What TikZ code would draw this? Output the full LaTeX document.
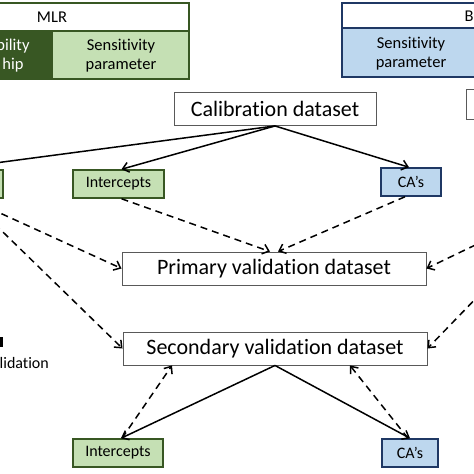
\documentclass[tikz,border=0pt]{standalone}
\usepackage{fontspec}
\setmainfont{Carlito}[Ligatures=NoCommon]
\usetikzlibrary{arrows.meta}
\definecolor{mlrdark}{HTML}{385723}
\definecolor{mlrlight}{HTML}{C5E0B4}
\definecolor{brtdark}{HTML}{1F3864}
\definecolor{brtlight}{HTML}{BDD7EE}
\definecolor{boxgrey}{HTML}{595959}

\begin{document}
\begin{tikzpicture}[x=1pt,y=-1pt]
    \useasboundingbox (0,0) rectangle (474,474);
    \clip (0,0) rectangle (474,474);

    % model tables
    \fill[mlrdark] (-85,31) rectangle (53,79);
    \fill[mlrlight] (53,31) rectangle (189,79);
    \draw[mlrdark,line width=1.8pt] (-85,3) rectangle (189,79) (-85,31) -- (189,31);
    \fill[brtlight] (342,28) rectangle (560,77);
    \draw[brtdark,line width=1.8pt] (342,3) rectangle (560,77) (342,28) -- (560,28);

    \begin{scope}[every node/.style={align=center,inner sep=0pt,
        font=\fontsize{16.5}{19}\selectfont}]
      \node (mlrhead) at (52,17) {MLR};
      \node[text=white] (mlrvar) at (13,55.5) {bility\\hip};
      \node (mlrsens) at (121,55.5) {Sensitivity\\parameter};
      \node (brthead) at (469,16) {B};
      \node (brtsens) at (411,54) {Sensitivity\\parameter};
    \end{scope}

    \begin{scope}[every node/.style={draw=boxgrey,fill=white,line width=0.9pt,
        minimum height=33pt,font=\fontsize{22}{26}\selectfont}]
      \node[minimum width=202pt] (calib) at (275,109) {Calibration dataset};
      \node[minimum width=304pt] (primary) at (274,268.5) {Primary validation dataset};
      \node[minimum width=304pt] (secondary) at (275,348.5) {Secondary validation dataset};
      \node[minimum width=108pt,minimum height=30pt] (brtcalib) at (520,104) {};
    \end{scope}

    \begin{scope}[every node/.style={line width=1.5pt,minimum height=28pt,
        inner sep=0pt,font=\fontsize{16}{19}\selectfont}]
      \node[draw=mlrdark,fill=mlrlight,minimum width=110pt] (slope) at (-52,184) {};
      \node[draw=mlrdark,fill=mlrlight,minimum width=91pt] (inttop) at (118.5,184) {Intercepts};
      \node[draw=brtdark,fill=brtlight,minimum width=60pt] (catop) at (411,182) {CA’s};
      \node[draw=mlrdark,fill=mlrlight,minimum width=90pt] (intbot) at (118,453) {Intercepts};
      \node[draw=brtdark,fill=brtlight,minimum width=56pt] (cabot) at (410,453) {CA’s};
    \end{scope}
    \coordinate (brtsrc) at (573,198);

    % legend
    \fill (-10,337) rectangle (3,347);
    \node[anchor=west,inner sep=0pt,font=\fontsize{16}{19}\selectfont] (legval) at (-0.5,363) {lidation};

    \begin{scope}[>={Straight Barb[length=6pt,width=10pt]},
        every edge/.style={draw=black,line width=1.5pt},
        valid/.style={dash pattern=on 7pt off 5pt}]
      \path [->] (calib.south) edge (slope.north);
      \path [->] (calib.south) edge ([xshift=3pt]inttop.north);
      \path [->] (calib.south) edge ([xshift=-2pt]catop.north);
      \path [->] ([xshift=3pt]inttop.south) edge[valid] ([xshift=-4pt]primary.north);
      \path [->] ([xshift=-6pt]catop.south) edge[valid] ([xshift=4pt]primary.north);
      \path [->] ([xshift=-35pt]slope.south east) edge[valid] (primary.west);
      \path [->] ([xshift=-35pt]slope.south east) edge[valid] (secondary.west);
      \path [->] (brtsrc) edge[valid] (primary.east);
      \path [->] (brtsrc) edge[valid] (secondary.east);
      \path [->] (secondary.south) edge ([xshift=3pt]intbot.north);
      \path [->] (secondary.south) edge (cabot.north);
      \path [->] ([xshift=4pt]intbot.north) edge[valid] ([xshift=-103pt]secondary.south);
      \path [->] ([xshift=-2pt]cabot.north) edge[valid] ([xshift=75pt]secondary.south);
    \end{scope}
\end{tikzpicture}
\end{document}
